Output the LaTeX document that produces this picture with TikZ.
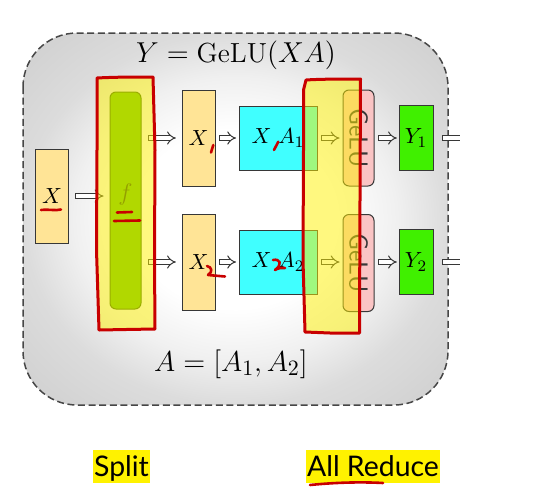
\documentclass[tikz,border=0pt]{standalone}
\usepackage{fontspec}
\newfontfamily\labelfont{Lato}
\usetikzlibrary{arrows.meta}
\definecolor{boxline}{RGB}{55,55,55}
\definecolor{xfill}{RGB}{255,228,150}
\definecolor{ffill}{RGB}{100,190,0}
\definecolor{xafill}{RGB}{64,255,255}
\definecolor{gfill}{RGB}{250,196,196}
\definecolor{yfill}{RGB}{64,240,0}
\definecolor{hired}{RGB}{200,0,0}
\definecolor{bgmid}{RGB}{240,240,240}
\definecolor{bgedge}{RGB}{220,220,220}
\definecolor{bgcorner}{RGB}{207,207,207}
\definecolor{bgfar}{RGB}{200,200,200}
\definecolor{dashcol}{RGB}{70,70,70}
\pgfdeclareradialshading{panelshade}{\pgfpoint{0bp}{0bp}}{color(0bp)=(white); color(12bp)=(white); color(19bp)=(bgmid); color(25bp)=(bgedge); color(35bp)=(bgcorner); color(50bp)=(bgfar)}
\begin{document}
\begin{tikzpicture}[x=0.5pt,y=-0.5pt,
  blk/.style={draw=boxline, line width=0.5pt, inner sep=0pt, font=\fontsize{11}{13}\selectfont},
  tallbox/.style={blk, minimum width=16.5pt, minimum height=48pt},
  widebox/.style={blk, fill=xafill, minimum width=39pt, minimum height=32pt},
  ybox/.style={blk, fill=yfill, minimum width=17pt, minimum height=32.5pt},
  gbox/.style={blk, fill=gfill, rounded corners=3pt, minimum width=15.5pt, minimum height=48pt},
  glabel/.style={inner sep=0pt, text=boxline, rotate=-90, font=\sffamily\fontsize{13}{15}\selectfont},
  arr/.style={draw=boxline, line width=0.5pt, double=white, double distance=1.8pt,
    arrows={Bar[width=2.8pt,line width=0.5pt]-Implies[scale=1.7]}},
  hilite/.style={fill=yellow, fill opacity=0.5, draw=hired, draw opacity=1, line width=1.5pt, line join=round},
  redmark/.style={draw=hired, line width=1.3pt, line cap=round, line join=round},
  tag/.style={fill=yellow, inner xsep=0.6pt, inner ysep=0pt, text height=13.3pt, text depth=3.2pt, anchor=base, font=\labelfont\fontsize{14.2}{16}\selectfont}
]
\useasboundingbox (0,0) rectangle (536,488);
% background panel
\shade[shading=panelshade, rounded corners=27pt] (23,33) rectangle (448,405);
\draw[dashcol, line width=0.75pt, dash pattern=on 3.5pt off 1.8pt, rounded corners=27pt] (23,33) rectangle (448,405);
\node (title) at (236,55) {\fontsize{13.8}{16}\selectfont $Y=\mathrm{GeLU}(XA)$};
\node (aeq) at (231,364) {\fontsize{15.5}{18}\selectfont $A=[A_1,A_2]$};
% blocks
\node[tallbox, fill=xfill, minimum height=47pt] (X) at (52,196) {$X$};
\node[blk, fill=ffill, draw=ffill!55!black, rounded corners=3pt, minimum width=15.5pt, minimum height=108.5pt] (f) at (125.5,200.5) {};
\node[inner sep=0pt, text=ffill!40!black, font=\fontsize{12}{14}\selectfont] (flab) at (125.5,194) {$f$};
\node[tallbox, fill=xfill] (X1) at (198.5,138) {$X$};
\node[tallbox, fill=xfill] (X2) at (198.5,262) {$X$};
\node[widebox] (XA1) at (278,138) {$X\hspace{3.5pt}A_1$};
\node[widebox] (XA2) at (278,262) {$X\hspace{3.5pt}A_2$};
\node[gbox] (G1) at (358.5,138) {};
\node[glabel] (G1l) at (G1.center) {GeLU};
\node[gbox, minimum height=48.5pt] (G2) at (358.5,263) {};
\node[glabel] (G2l) at (G2.center) {GeLU};
\node[ybox] (Y1) at (416,138) {$Y_1$};
\node[ybox] (Y2) at (416,262) {$Y_2$};
\coordinate (Y1out) at (460,138);
\coordinate (Y2out) at (460,262);
% arrows
\draw[arr, shorten <=3pt, shorten >=3pt] (X.east) -- (X.east -| f.west);
\draw[arr, shorten <=3pt, shorten >=2.8pt] (X1.west -| f.east) -- (X1.west);
\draw[arr, shorten <=3pt, shorten >=2.8pt] (X2.west -| f.east) -- (X2.west);
\draw[arr, shorten <=1.5pt, shorten >=1.2pt] (X1) -- (XA1);
\draw[arr, shorten <=1.5pt, shorten >=1.2pt] (X2) -- (XA2);
\draw[arr, shorten <=1.5pt, shorten >=1.5pt] (XA1) -- (G1);
\draw[arr, shorten <=1.5pt, shorten >=1.5pt] (XA2.east) -- (XA2.east -| G2.west);
\draw[arr, shorten <=1.8pt, shorten >=0.8pt] (G1) -- (Y1);
\draw[arr, shorten <=1.8pt, shorten >=0.8pt] (G2.east |- Y2) -- (Y2.west);
\draw[arr, arrows={Bar[width=2.8pt,line width=0.5pt]-}, shorten <=4pt] (Y1.east) -- (Y1out);
\draw[arr, arrows={Bar[width=2.8pt,line width=0.5pt]-}, shorten <=4pt] (Y2.east) -- (Y2out);
% highlights
\draw[hilite] (97,78) .. controls (115,77) and (135,77) .. (153,77) -- (155,150) -- (154.5,260) -- (155,329) -- (126,329.5) -- (99,330) -- (96.5,250) -- (97,150) -- cycle;
\draw[hilite] (306,80) .. controls (320,79) and (345,79) .. (360.5,79) -- (360,200) -- (359.5,333) -- (330,333) -- (305,332) -- (303,260) -- (303.5,150) -- (303.5,90) -- cycle;
% hand marks
\draw[redmark] (41,210) .. controls (49,209) and (55,211) .. (61,209.5);
\draw[redmark] (117,212.5) -- (132,212);
\draw[redmark] (114,221) -- (140,220.5);
\draw[redmark] (211,152.5) -- (213.3,145);
\draw[redmark] (274,150) -- (278.3,141.7);
\draw[redmark] (207,266) .. controls (212,267) and (213,272) .. (208,275) -- (225,276.5);
\draw[redmark] (273,260) .. controls (280,258.5) and (283,264) .. (275,270) .. controls (279,268) .. (285,268);
% labels
\node[tag] (split) at (121.5,476.7) {Split};
\node[tag] (allred) at (373,476.7) {All Reduce};
\draw[redmark] (310,485) .. controls (340,482) and (365,482) .. (383,483);
\end{tikzpicture}
\end{document}
